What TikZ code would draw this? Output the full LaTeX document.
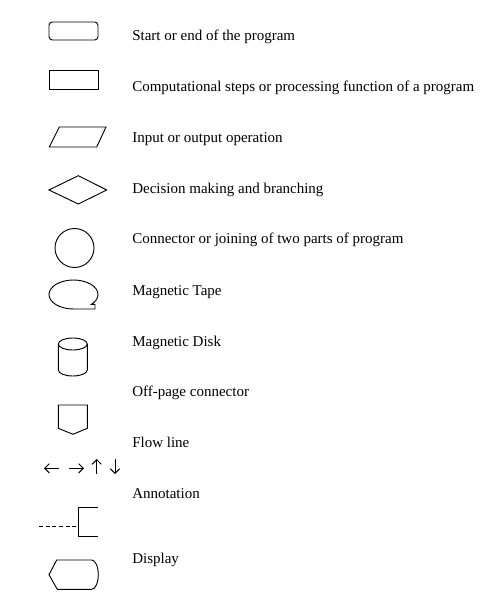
\documentclass[tikz,border=0pt]{standalone}
\usepackage{fontspec}
\setmainfont{Liberation Serif}
\usetikzlibrary{arrows.meta}
\tikzstyle{symbol} = [draw, line width=0.7pt]
\tikzstyle{legendtext} = [anchor=base west, inner sep=0pt, font=\fontsize{11.25}{13}\selectfont]
\tikzstyle{flowarrow} = [symbol, -{Straight Barb[length=3.5pt, width=7pt]}]

\begin{document}
\begin{tikzpicture}[x=0.75pt, y=-0.75pt]
      \useasboundingbox (0, 0) rectangle (502, 602);

      % symbols
      \draw[symbol, rounded corners=2.5pt] (49, 22) rectangle (98, 40);
      \draw[symbol] (49, 70) rectangle (98, 89);
      \draw[symbol] (59.3, 127) -- (106, 127) -- (96.7, 147) -- (49.3, 147) -- cycle;
      \draw[symbol] (49, 190) -- (78.3, 175.7) -- (106.7, 190) -- (78.3, 204) -- cycle;
      \draw[symbol] (74.5, 248) circle[radius=19.5];
      \draw[symbol] (73.5, 309) arc[start angle=90, end angle=403, x radius=24.5, y radius=14.5]
            -- (95, 304.4) -- (95, 309) -- cycle;
      \draw[symbol] (72.8, 344) ellipse[x radius=14.5, y radius=6];
      \draw[symbol] (58.3, 344) -- (58.3, 370) arc[start angle=180, end angle=0, x radius=14.5, y radius=6]
            -- (87.3, 344);
      \draw[symbol] (58.3, 405) -- (87.3, 405) -- (87.3, 428.3) -- (73, 434.3) -- (58.3, 428.3) -- cycle;

      \coordinate (left1) at (59, 468.3);
      \coordinate (left2) at (44, 468.3);
      \coordinate (right1) at (69, 468.3);
      \coordinate (right2) at (84, 468.3);
      \coordinate (up1) at (96.7, 474);
      \coordinate (up2) at (96.7, 459);
      \coordinate (down1) at (115, 459);
      \coordinate (down2) at (115, 474);
      \draw[flowarrow] (left1) -- (left2);
      \draw[flowarrow] (right1) -- (right2);
      \draw[flowarrow] (up1) -- (up2);
      \draw[flowarrow] (down1) -- (down2);

      \draw[symbol, dash pattern=on 3pt off 2pt] (39, 526.7) -- (78.3, 526.7);
      \draw[symbol] (97.7, 507.7) -- (78.3, 507.7) -- (78.3, 536) -- (97.7, 536);
      \draw[symbol] (56.7, 560) -- (91.7, 560) arc[start angle=-90, end angle=90, x radius=6.6, y radius=14.65]
            -- (57.3, 589.3) -- (49, 574.7) -- cycle;

      % texts
      \node[legendtext] (terminal) at (132, 40.7) {Start or end of the program};
      \node[legendtext] (process) at (132, 91.7) {Computational steps or processing function of a program};
      \node[legendtext] (io) at (132, 142.7) {Input or output operation};
      \node[legendtext] (decision) at (132, 193.3) {Decision making and branching};
      \node[legendtext] (connector) at (132, 243.3) {Connector or joining of two parts of program};
      \node[legendtext] (tape) at (132, 295.3) {Magnetic Tape};
      \node[legendtext] (disk) at (132, 346) {Magnetic Disk};
      \node[legendtext] (offpage) at (132, 396.7) {Off-page connector};
      \node[legendtext] (flowline) at (132, 447.7) {Flow line};
      \node[legendtext] (annotation) at (132, 498.3) {Annotation};
      \node[legendtext] (display) at (132, 563.3) {Display};
    \end{tikzpicture}
\end{document}
